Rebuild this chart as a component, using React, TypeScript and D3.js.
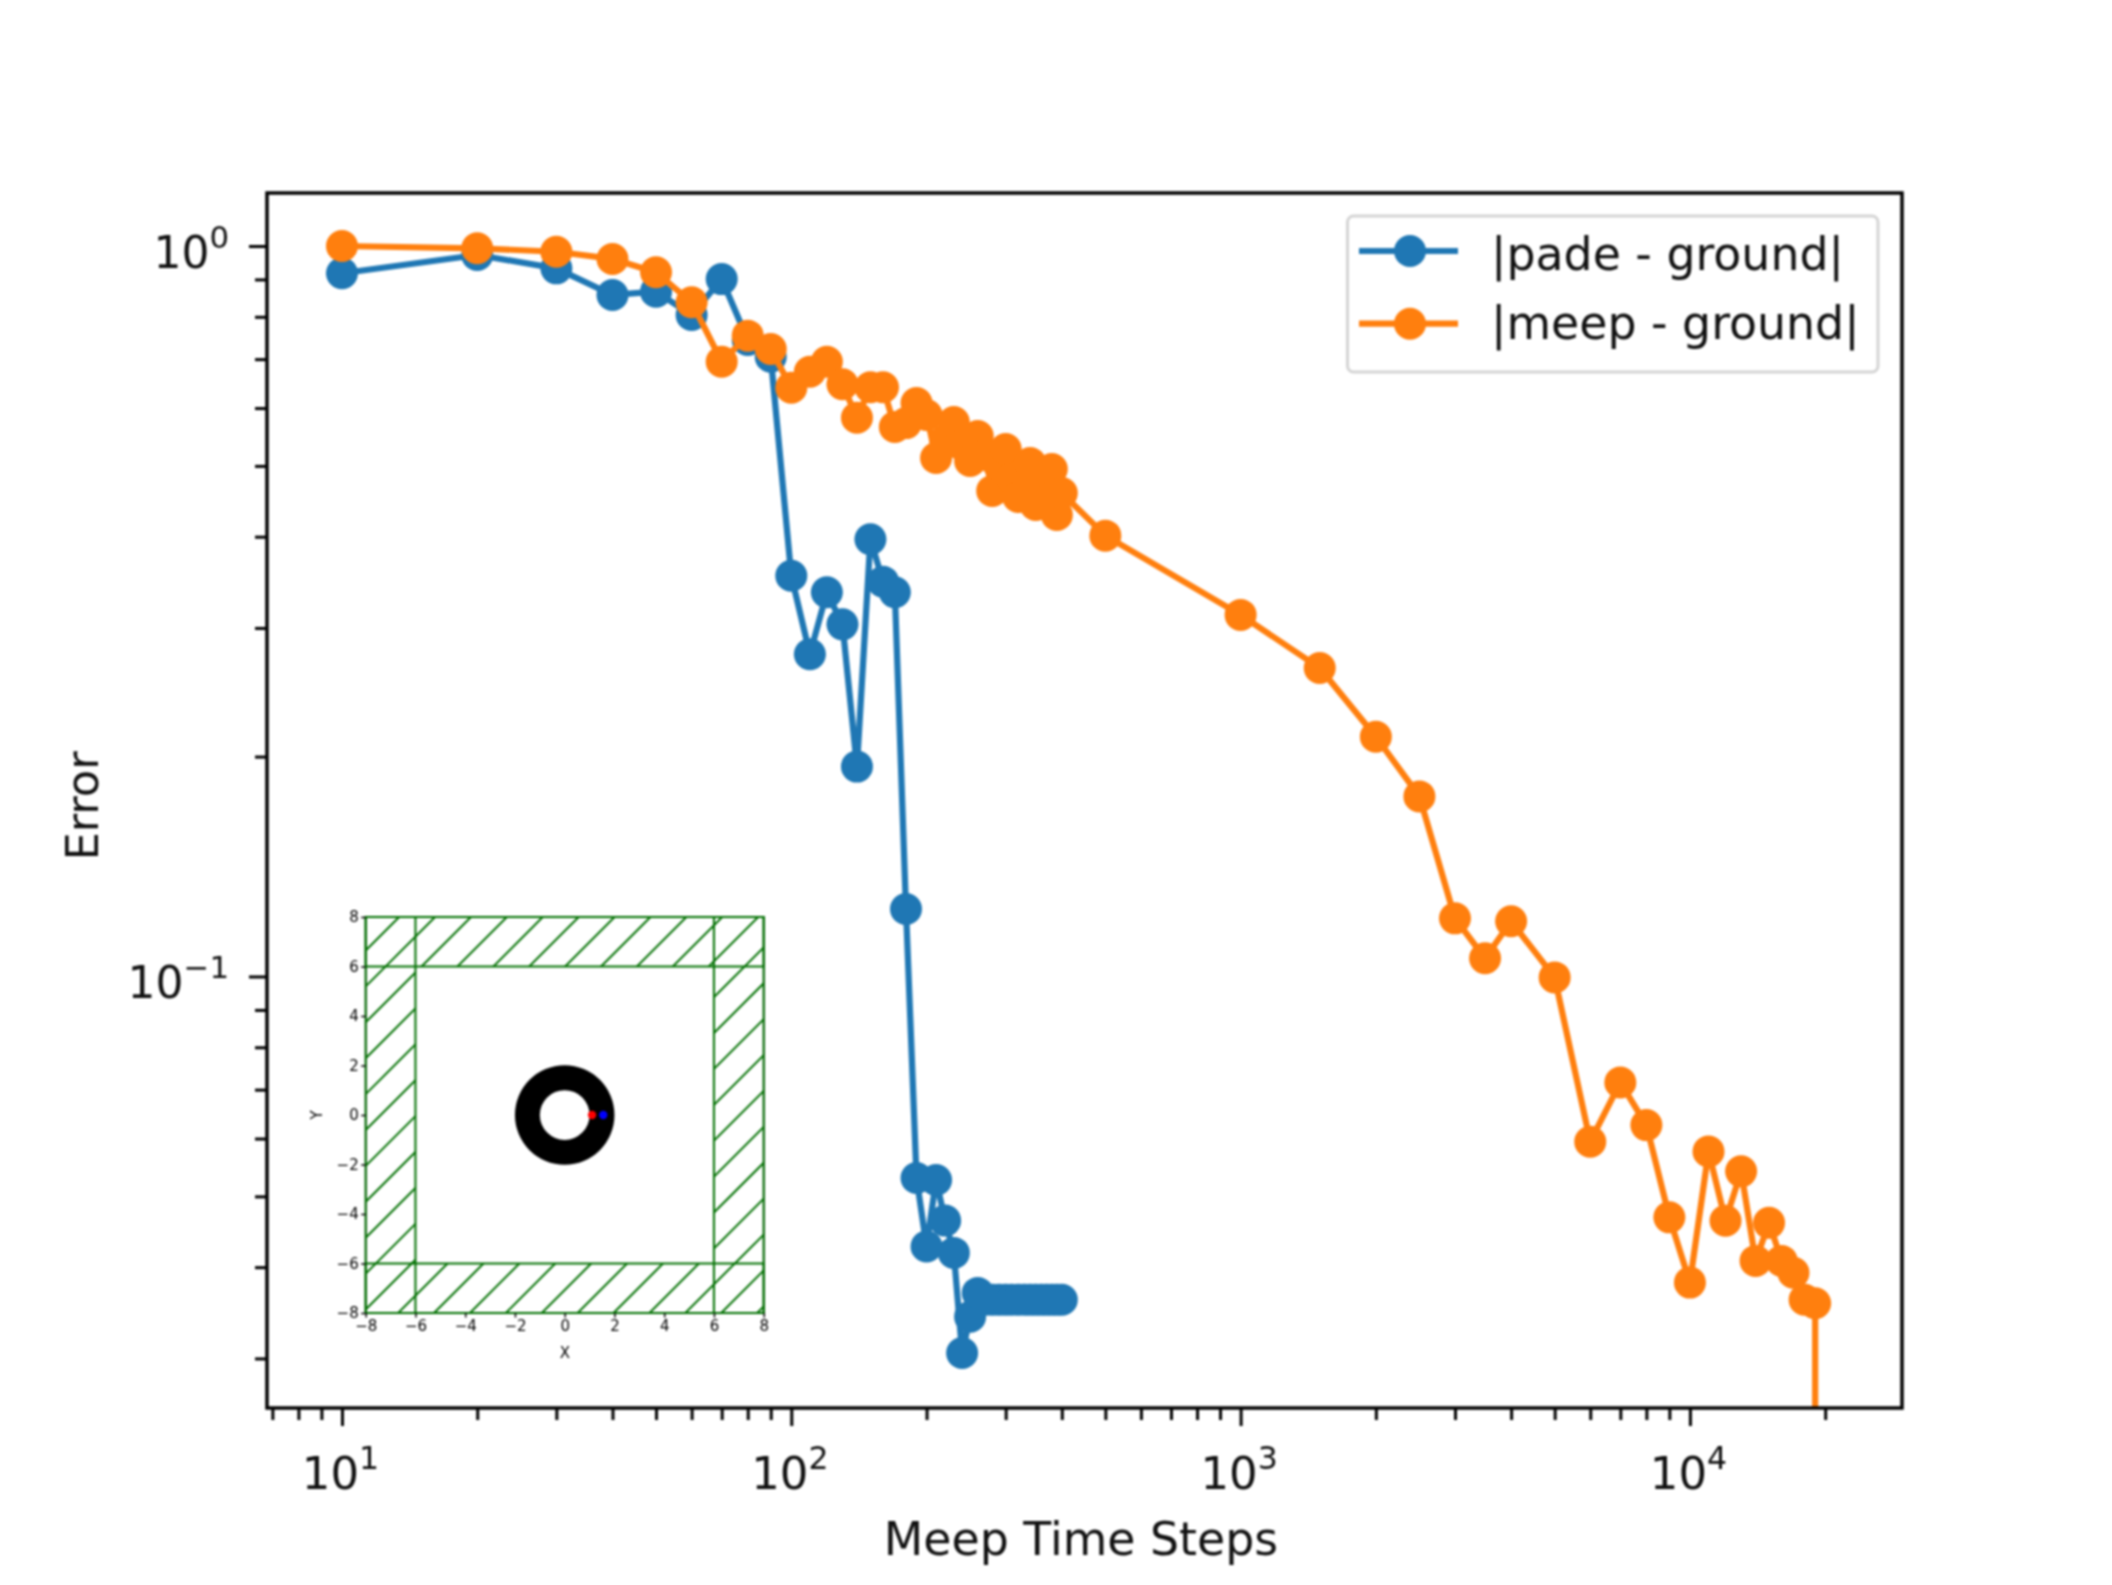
import React, { useRef, useEffect } from "react";
import * as d3 from "d3";

const padeSteps = [10, 20, 30, 40, 50, 60, 70, 80, 90, 100, 110, 120, 130, 140, 150, 160, 170, 180, 190, 200,
  210, 220, 230, 240, 250, 260, 270, 280, 290, 300, 310, 320, 330, 340, 350, 360, 370, 380, 390, 400];
const padeError = [0.9176, 0.972, 0.932, 0.857, 0.866, 0.8045, 0.901, 0.7436, 0.7055, 0.3537, 0.2761, 0.3357,
  0.3034, 0.1938, 0.3968, 0.3471, 0.3357, 0.1237, 0.05298, 0.04269, 0.05264, 0.04632, 0.04184, 0.03052, 0.03422,
  0.03688, 0.0361, 0.0361, 0.0361, 0.0361, 0.0361, 0.0361, 0.0361, 0.0361, 0.0361, 0.0361, 0.0361, 0.0361, 0.0361, 0.0361];

const meepSteps = [10, 20, 30, 40, 50, 60, 70, 80, 90, 100, 110, 120, 130, 140, 150, 160, 170, 180, 190, 200,
  210, 220, 230, 240, 250, 260, 270, 280, 290, 300, 310, 320, 330, 340, 350, 360, 370, 380, 390, 400,
  500, 1000, 1500, 2000, 2500, 3000, 3500, 4000, 5000, 6000, 7000, 8000, 9000, 10000, 11000, 12000,
  13000, 14000, 15000, 16000, 17000, 18000, 19000, 19000];
const meepError = [1.0, 0.9928, 0.982, 0.96, 0.9205, 0.8375, 0.6944, 0.7538, 0.7228, 0.6398, 0.6727, 0.6944,
  0.6467, 0.5819, 0.6406, 0.6406, 0.5651, 0.5722, 0.6097, 0.587, 0.5126, 0.5425, 0.5741, 0.534, 0.5078, 0.5493,
  0.5175, 0.4621, 0.5014, 0.5273, 0.4813, 0.4533, 0.4906, 0.5047, 0.442, 0.4783, 0.4906, 0.4952, 0.4283, 0.4591,
  0.4013, 0.3126, 0.2644, 0.2129, 0.1764, 0.1201, 0.1059, 0.119, 0.0997, 0.0594, 0.0716, 0.0626, 0.0468, 0.0381,
  0.0576, 0.0463, 0.0541, 0.0408, 0.046, 0.0408, 0.0393, 0.0361, 0.0357, 0.001];

const seriesNames = ["|pade - ground|", "|meep - ground|"];
const seriesColors = ["#1f77b4", "#ff7f0e"];
const xMajor = [10, 100, 1000, 10000];
const yMajor = [1, 0.1];
const insetTicks = [-8, -6, -4, -2, 0, 2, 4, 6, 8];

const FONT = "'DejaVu Sans', sans-serif";
const pow = (v: number) => String(Math.round(Math.log10(v))).replace("-", "\u2212");

const App: React.FC = () => {
  const svgRef = useRef<SVGSVGElement | null>(null);

  useEffect(() => {
    const svg = d3.select(svgRef.current);
    svg.selectAll("*").remove();

    const left = 267, right = 1902, top = 193, bottom = 1408;
    const x = d3.scaleLog().domain([6.81, 29648]).range([left, right]);
    const y = d3.scaleLog().domain([1.1818, 0.02566]).range([top, bottom]);

    svg.append("clipPath").attr("id", "plot-clip")
      .append("rect").attr("x", left).attr("y", top).attr("width", right - left).attr("height", bottom - top);

    // 主圖: line then markers, blue first
    const plot = svg.append("g").attr("clip-path", "url(#plot-clip)");
    const series = [
      padeSteps.map((s, i) => [s, padeError[i]]),
      meepSteps.map((s, i) => [s, meepError[i]]),
    ];
    const line = d3.line<number[]>().x((d) => x(d[0])).y((d) => y(d[1]));
    series.forEach((pts, i) => {
      plot.append("path").attr("d", line(pts)).attr("fill", "none")
        .attr("stroke", seriesColors[i]).attr("stroke-width", 6.2).attr("stroke-linejoin", "round");
      plot.append("g").selectAll("circle").data(pts).join("circle")
        .attr("cx", (d) => x(d[0])).attr("cy", (d) => y(d[1])).attr("r", 16).attr("fill", seriesColors[i]);
    });

    // Axes
    const xMinor = x.ticks().filter((t) => !xMajor.includes(t));
    const yMinor = y.ticks().filter((t) => !yMajor.some((m) => Math.abs(m - t) < 1e-9));
    const styleAxis = (g: any) => {
      g.select(".domain").remove();
      g.selectAll("line").attr("stroke", "#000").attr("stroke-width", 3);
      g.selectAll("text").remove();
    };
    svg.append("g").attr("transform", `translate(0,${bottom})`)
      .call(d3.axisBottom(x).tickValues(xMajor).tickSize(18)).call(styleAxis);
    svg.append("g").attr("transform", `translate(0,${bottom})`)
      .call(d3.axisBottom(x).tickValues(xMinor).tickSize(12)).call(styleAxis);
    svg.append("g").attr("transform", `translate(${left},0)`)
      .call(d3.axisLeft(y).tickValues(yMajor).tickSize(18)).call(styleAxis);
    svg.append("g").attr("transform", `translate(${left},0)`)
      .call(d3.axisLeft(y).tickValues(yMinor).tickSize(12)).call(styleAxis);
    svg.append("rect").attr("x", left).attr("y", top).attr("width", right - left).attr("height", bottom - top)
      .attr("fill", "none").attr("stroke", "#000").attr("stroke-width", 3.5);

    const powerLabel = (px: number, py: number, v: number, anchor: string, size: number) => {
      const t = svg.append("text").attr("x", px).attr("y", py).attr("text-anchor", anchor)
        .attr("font-family", FONT).attr("font-size", size).attr("fill", "#111");
      t.append("tspan").text("10");
      t.append("tspan").attr("font-size", size * 0.7).attr("dy", -20).text(pow(v));
    };
    xMajor.forEach((v) => powerLabel(x(v) - 1.5, 1489, v, "middle", 45));
    yMajor.forEach((v) => powerLabel(229, y(v) + 22, v, "end", 44));

    svg.append("text").attr("x", 1081).attr("y", 1555).attr("text-anchor", "middle")
      .attr("font-family", FONT).attr("font-size", 45.8).attr("fill", "#111").text("Meep Time Steps");
    svg.append("text").attr("transform", `translate(97.5,806) rotate(-90)`).attr("text-anchor", "middle")
      .attr("font-family", FONT).attr("font-size", 44.8).attr("fill", "#111").text("Error");

    // Legend
    const legend = svg.append("g");
    legend.append("rect").attr("x", 1347.5).attr("y", 216).attr("width", 530.5).attr("height", 156).attr("rx", 6)
      .attr("fill", "#fff").attr("fill-opacity", 0.8).attr("stroke", "#d4d4d4").attr("stroke-width", 3);
    seriesNames.forEach((name, i) => {
      const ly = 251 + i * 72.7;
      legend.append("line").attr("x1", 1359).attr("x2", 1458).attr("y1", ly).attr("y2", ly)
        .attr("stroke", seriesColors[i]).attr("stroke-width", 6.2);
      legend.append("circle").attr("cx", 1410).attr("cy", ly).attr("r", 16).attr("fill", seriesColors[i]);
      legend.append("text").attr("x", 1491).attr("y", 270 + i * 69).attr("font-family", FONT)
        .attr("font-size", 45.8).attr("fill", "#111").text(name);
    });

    // Inset: simulation domain
    const ix = d3.scaleLinear().domain([-8, 8]).range([365.7, 763.7]);
    const iy = d3.scaleLinear().domain([-8, 8]).range([1313, 917]);
    const inset = svg.append("g");
    inset.append("rect").attr("x", ix(-8)).attr("y", iy(8)).attr("width", ix(8) - ix(-8)).attr("height", iy(-8) - iy(8))
      .attr("fill", "#fff").attr("stroke", "#000").attr("stroke-width", 1.6);

    const bands = [
      [-8, 8, 6, 8],
      [-8, 8, -8, -6],
      [-8, -6, -8, 8],
      [6, 8, -8, 8],
    ];
    const hatchClip = svg.append("clipPath").attr("id", "hatch-clip");
    bands.forEach((b) => {
      hatchClip.append("rect").attr("x", ix(b[0])).attr("y", iy(b[3]))
        .attr("width", ix(b[1]) - ix(b[0])).attr("height", iy(b[2]) - iy(b[3]));
    });
    const hatch = inset.append("g").attr("clip-path", "url(#hatch-clip)");
    d3.range(-2, 20).forEach((k) => {
      const c = 1388 + k * 35.9;
      hatch.append("line").attr("x1", ix(-8)).attr("y1", c - ix(-8)).attr("x2", ix(8)).attr("y2", c - ix(8))
        .attr("stroke", "#007000").attr("stroke-width", 2);
    });
    bands.forEach((b) => {
      inset.append("rect").attr("x", ix(b[0])).attr("y", iy(b[3]))
        .attr("width", ix(b[1]) - ix(b[0])).attr("height", iy(b[2]) - iy(b[3]))
        .attr("fill", "none").attr("stroke", "#007000").attr("stroke-width", 2);
    });

    const ring = d3.arc()({
      innerRadius: ix(1) - ix(0), outerRadius: ix(2) - ix(0), startAngle: 0, endAngle: 2 * Math.PI,
    });
    inset.append("path").attr("d", ring).attr("transform", `translate(${ix(0)},${iy(0)})`).attr("fill", "#000");
    inset.append("circle").attr("cx", ix(1.1)).attr("cy", iy(0)).attr("r", 4.2).attr("fill", "#f00");
    inset.append("circle").attr("cx", ix(1.55)).attr("cy", iy(0)).attr("r", 4.2).attr("fill", "#00f");

    const insetX = inset.append("g").attr("transform", `translate(0,${iy(-8)})`)
      .call(d3.axisBottom(ix).tickValues(insetTicks).tickSize(4.5).tickPadding(2.5)
        .tickFormat((d) => String(d).replace("-", "\u2212")));
    const insetY = inset.append("g").attr("transform", `translate(${ix(-8)},0)`)
      .call(d3.axisLeft(iy).tickValues(insetTicks).tickSize(4.5).tickPadding(2.5)
        .tickFormat((d) => String(d).replace("-", "\u2212")));
    [insetX, insetY].forEach((g) => {
      g.select(".domain").remove();
      g.selectAll("line").attr("stroke", "#000").attr("stroke-width", 1.5);
      g.selectAll("text").attr("font-family", FONT).attr("font-size", 15).attr("fill", "#000");
    });
    inset.append("text").attr("x", 565).attr("y", 1358).attr("text-anchor", "middle")
      .attr("font-family", FONT).attr("font-size", 15).attr("fill", "#000").text("X");
    inset.append("text").attr("transform", "translate(322,1115) rotate(-90)").attr("text-anchor", "middle")
      .attr("font-family", FONT).attr("font-size", 15).attr("fill", "#000").text("Y");
  }, []);

  return (
    <svg ref={svgRef} width={2112} height={1585}
      style={{ position: "absolute", left: 0, top: 0, background: "#fff", filter: "blur(0.8px)" }} />
  );
};

export default App;
